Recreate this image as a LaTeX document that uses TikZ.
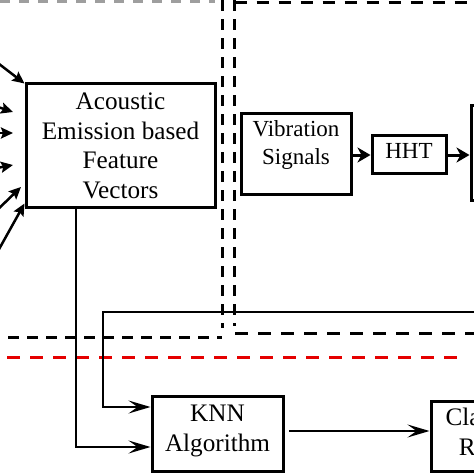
\documentclass[tikz,border=0pt]{standalone}
\usepackage{fontspec}
\setmainfont{Liberation Serif}
\usetikzlibrary{arrows.meta}
\begin{document}
\begin{tikzpicture}[x=1pt,y=-1pt,
  box/.style={draw,line width=3pt,inner sep=0pt,outer sep=1.5pt},
  txt/.style={align=center,inner sep=0pt,font=\fontsize{25.2}{29.6}\selectfont},
  small txt/.style={align=center,inner sep=0pt,font=\fontsize{23}{27.5}\selectfont},
  frame/.style={line width=3pt,dash pattern=on 11pt off 8pt},
  conn/.style={line width=2pt,-{Stealth[length=22pt,width=13pt,inset=9pt]}},
  thick arrow/.style={line width=3pt,-{Stealth[length=13pt,width=15pt,inset=4pt]}},
  fan/.style={line width=2.5pt,-{Stealth[length=12pt,width=11pt,inset=2pt]}}
]
\useasboundingbox (0,0) rectangle (474,474);
\clip (0,0) rectangle (474,474);
\fill[white] (0,0) rectangle (474,474);

% dashed frames
\draw[frame,draw=black!38,dash pattern=on 10pt off 9pt] (0,1.5) -- (215,1.5);
\draw[frame] (222,0) -- (222,328);
\draw[frame] (8,337) -- (222,337);
\draw[frame] (234.5,0) -- (234.5,326);
\draw[frame,dash pattern=on 12pt off 10pt] (234.5,2) -- (474,2);
\draw[frame,dash pattern=on 13pt off 10pt] (235,333) -- (474,333);
\draw[frame,draw=red!90!black,dash pattern=on 13pt off 10pt] (7,357) -- (465,357);

% boxes
\node[box,minimum width=189pt,minimum height=124pt] (ae) at (120.5,145) {};
\node[txt] (aet) at (120.5,146) {Acoustic\\Emission based\\Feature\\Vectors};

\node[box,minimum width=110pt,minimum height=81pt] (vib) at (296,153.5) {};
\node[small txt] (vibt) at (296,145) {Vibration\\Signals};

\node[box,minimum width=74pt,minimum height=38pt] (hht) at (409,154) {};
\node[small txt] (hhtt) at (409,150.5) {HHT};

\node[box,minimum width=100pt,minimum height=95pt] (rb) at (521,152.5) {};

\node[box,minimum width=131pt,minimum height=75pt] (knn) at (217.5,433.5) {};
\node[txt] (knnt) at (217.5,431) {KNN\\Algorithm};

\node[box,minimum width=130pt,minimum height=70pt] (cl) at (496,436) {};
\node[txt] (clt) at (496,432) {Classified\\Results};

% fan-in arrows (sources outside the picture)
\coordinate (s1) at (-10,57);
\coordinate (s2) at (-20,101);
\coordinate (s3) at (-20,133);
\coordinate (s4) at (-20,171);
\coordinate (s5) at (-10,217);
\coordinate (s6) at (-2,251);
\coordinate (t2) at (13,112);
\coordinate (t3) at (13,133);
\coordinate (t4) at (13,165);
\coordinate (t5) at (21,187);
\draw[fan] (s1) -- ([yshift=-2pt]ae.north west);
\draw[fan] (s2) -- (t2);
\draw[fan] (s3) -- (t3);
\draw[fan] (s4) -- (t4);
\draw[fan] (s5) -- (t5);
\draw[fan] (s6) -- ([yshift=5pt]ae.south west);

% connectors
\draw[thick arrow] (vib.east |- 0,155) -- (hht.west |- 0,155);
\draw[thick arrow] (hht.east |- 0,155) -- (rb.west |- 0,155);

\coordinate (vfeat) at (480,311.5);
\draw[conn] (vfeat) -| ([xshift=-47.5pt,yshift=26.5pt]knn.west) -- ([yshift=26.5pt]knn.west);
\draw[conn] ([xshift=-44.5pt]ae.south) |- ([yshift=-13.5pt]knn.west);
\draw[conn] ([xshift=4.5pt,yshift=2.5pt]knn.east) -- ([yshift=2.5pt]knn.east -| cl.west);
\end{tikzpicture}
\end{document}
